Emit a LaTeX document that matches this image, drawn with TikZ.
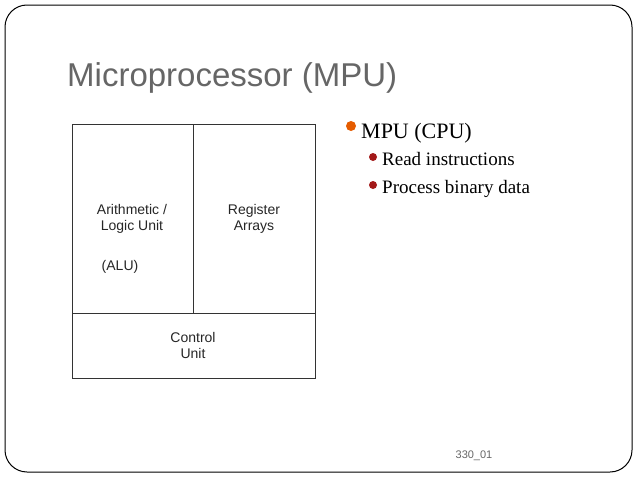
\documentclass[tikz,border=0pt]{standalone}
\usepackage{fontspec}
\setmainfont{Liberation Serif}
\newfontfamily\sans{Liberation Sans}
\begin{document}
\begin{tikzpicture}[x=1pt,y=-1pt,
  box/.style={draw=black!80,line width=1pt},
  lbl/.style={font=\sans\fontsize{14}{16}\selectfont,text=black!85,align=center},
  dot/.style={circle,inner sep=0pt}]
\useasboundingbox (0,0) rectangle (638,479);
\draw[line width=1pt,rounded corners=22pt] (5,5) rectangle (632,472);
\node[anchor=base west,inner sep=0pt,text=black!60,font=\sans\fontsize{33}{38}\selectfont] (title) at (67,86) {Microprocessor (MPU)};
\draw[box] (72,124) rectangle (315,378);
\draw[box] (193,124) -- (193,313);
\draw[box] (72,313) -- (315,313);
\node[lbl] (alu) at (132,219) {Arithmetic /\\Logic Unit};
\node[lbl] (alu2) at (120,267) {(ALU)};
\node[lbl] (reg) at (254,219) {Register\\Arrays};
\node[lbl] (cu) at (193,345) {Control\\Unit};
\node[dot,fill=orange!80!red!90!black,minimum size=10pt] (b1) at (351,126) {};
\node[anchor=base west,inner sep=0pt,font=\fontsize{22}{26}\selectfont] (t1) at (361,138) {MPU (CPU)};
\node[dot,fill=red!60!black!90,minimum size=8pt] (b2) at (373,157) {};
\node[anchor=base west,inner sep=0pt,font=\fontsize{19}{22}\selectfont] (t2) at (382,165) {Read instructions};
\node[dot,fill=red!60!black!90,minimum size=8pt] (b3) at (373,185) {};
\node[anchor=base west,inner sep=0pt,font=\fontsize{19}{22}\selectfont] (t3) at (382,193) {Process binary data};
\node[text=black!60,font=\sans\fontsize{11}{13}\selectfont] (num) at (474,456) {330\_01};
\end{tikzpicture}
\end{document}
